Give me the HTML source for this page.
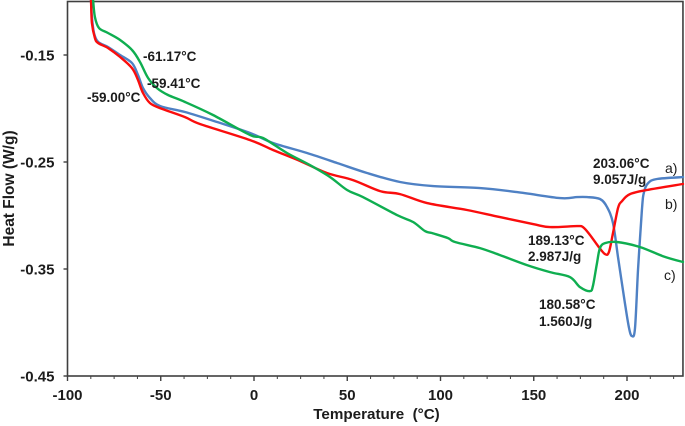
<!DOCTYPE html>
<html>
<head>
<meta charset="utf-8">
<style>
html,body{margin:0;padding:0;background:#fff;}
svg{display:block;}
text{font-family:"Liberation Sans",sans-serif;font-weight:bold;fill:#1c1c1c;}
.a{font-size:13.5px;}
</style>
</head>
<body>
<svg id="chart" width="685" height="426" viewBox="0 0 685 426" xmlns="http://www.w3.org/2000/svg">
  <g id="axes"></g>
  <g id="series"></g>
  <text x="376.5" y="419" text-anchor="middle" font-size="15.2" xml:space="preserve">Temperature  (°C)</text>
  <text transform="translate(14,188.5) rotate(-90)" text-anchor="middle" font-size="15.5">Heat Flow (W/g)</text>
  <text class="a" x="143" y="61">-61.17°C</text>
  <text class="a" x="147" y="88">-59.41°C</text>
  <text class="a" x="87" y="102">-59.00°C</text>
  <text class="a" x="593" y="168">203.06°C</text>
  <text class="a" x="593" y="184">9.057J/g</text>
  <text class="a" x="528" y="245">189.13°C</text>
  <text class="a" x="528" y="261">2.987J/g</text>
  <text class="a" x="539" y="309">180.58°C</text>
  <text class="a" x="539" y="326">1.560J/g</text>
  <text x="665" y="173" font-size="14" style="font-weight:normal">a)</text>
  <text x="665" y="209" font-size="14" style="font-weight:normal">b)</text>
  <text x="664" y="280" font-size="14" style="font-weight:normal">c)</text>
</svg>
<script>
var xTickLabels = [-100, -50, 0, 50, 100, 150, 200];
var yTickLabels = [-0.15, -0.25, -0.35, -0.45];

var blueTemp = [-87.4,-86.9,-85.8,-83.6,-78.3,-71.8,-65.4,-62.2,-59.5,-55.8,-50.4,-37,-19.8,-2.1,10.2,28.4,44.5,60.6,78.3,96,121.2,141,164.1,173.2,178.6,185.5,189.3,192.5,195.2,198.9,201.1,202.7,204.3,205.9,208,209.1,211.3,216.1,230];
var blueFlow = [-0.0986,-0.1145,-0.1294,-0.1378,-0.1425,-0.15,-0.1575,-0.1687,-0.1809,-0.1902,-0.1977,-0.2033,-0.2126,-0.2229,-0.2322,-0.2416,-0.2509,-0.2603,-0.2687,-0.2725,-0.2744,-0.2781,-0.2837,-0.2828,-0.2828,-0.2846,-0.2921,-0.3071,-0.3389,-0.3819,-0.4053,-0.4127,-0.4053,-0.351,-0.2949,-0.2781,-0.2697,-0.2659,-0.2641];

var redTemp = [-87.4,-86.9,-85.3,-83.6,-78.3,-71.8,-65.4,-62.2,-59.5,-55.8,-50.4,-37,-29,-2.1,10.2,24.7,39.1,53.1,67.6,78.3,92.8,114.2,131.9,149.6,158.7,173.2,176.4,180.2,184.5,188.2,190.3,192.5,195.2,197.3,201.6,210.7,230];
var redFlow = [-0.0986,-0.1201,-0.1341,-0.1388,-0.1435,-0.1519,-0.1622,-0.1734,-0.1855,-0.1949,-0.1996,-0.208,-0.2145,-0.2295,-0.2388,-0.2491,-0.2603,-0.2669,-0.2772,-0.28,-0.2884,-0.2949,-0.3015,-0.308,-0.3108,-0.3099,-0.3108,-0.3183,-0.3286,-0.3361,-0.3342,-0.3164,-0.2931,-0.2865,-0.28,-0.2762,-0.2706];

var greenTemp = [-86.3,-85.3,-83.1,-78.3,-71.8,-65.4,-61.1,-56.8,-52,-46.1,-37,-22,-2.1,4.8,17.7,30,40.8,49.9,58.4,76.7,85.3,91.7,95.4,104,107.8,121.2,131.9,146.4,158.7,169.4,174.8,180.2,181.8,183.9,185.5,188.2,194.6,207,219.3,230];
var greenFlow = [-0.0986,-0.1145,-0.1248,-0.1294,-0.136,-0.1453,-0.1565,-0.1715,-0.1809,-0.1874,-0.1939,-0.2061,-0.2248,-0.2276,-0.2416,-0.2529,-0.2641,-0.2762,-0.2828,-0.2996,-0.3061,-0.3146,-0.3164,-0.3211,-0.3248,-0.3305,-0.337,-0.3464,-0.3529,-0.3576,-0.3669,-0.3707,-0.3651,-0.3445,-0.3305,-0.3258,-0.3248,-0.3295,-0.338,-0.3435];

var NS = 'http://www.w3.org/2000/svg';
function xScale(t){ return 254 + t * 1.865; }
function yScale(h){ return 55 + (-0.15 - h) * 1070; }

var axes = document.getElementById('axes');
var seriesGroup = document.getElementById('series');
var xMin = -100, xMax = 230, yMax = -0.10, yMin = -0.45, axisColor = '#3f3f3f';

function line(x1, y1, x2, y2, w){
  var l = document.createElementNS(NS, 'line');
  l.setAttribute('x1', x1);
  l.setAttribute('y1', y1);
  l.setAttribute('x2', x2);
  l.setAttribute('y2', y2);
  l.setAttribute('stroke', axisColor);
  l.setAttribute('stroke-width', w);
  axes.appendChild(l);
  return l;
}

var frame = document.createElementNS(NS, 'rect');


frame.setAttribute('x', xScale(xMin));
frame.setAttribute('y', yScale(yMax));
frame.setAttribute('width', xScale(xMax) - xScale(xMin));
frame.setAttribute('height', yScale(yMin) - yScale(yMax));
frame.setAttribute('fill', 'none');
frame.setAttribute('stroke', axisColor);
frame.setAttribute('stroke-width', '1.6');
axes.appendChild(frame);

for (var m = xMin; m <= xMax; m += 12.5) {
  var isMajor = (m % 50 === 0);
  var xt = line(xScale(m), yScale(yMin), xScale(m), yScale(yMin) + (isMajor ? 5 : 3), isMajor ? 1.4 : 1);
  
  
}

xTickLabels.forEach(function (v) {
  var t = document.createElementNS(NS, 'text');
  
  
  t.setAttribute('x', xScale(v));
  t.setAttribute('y', 400);
  t.setAttribute('text-anchor', 'middle');
  t.setAttribute('font-size', '15');
  t.textContent = String(v);
  axes.appendChild(t);
});

yTickLabels.forEach(function (v) {
  var yt = line(xScale(xMin) - 4, yScale(v), xScale(xMin), yScale(v), 1.4);
  
  
  var t = document.createElementNS(NS, 'text');
  
  
  t.setAttribute('x', 54.5);
  t.setAttribute('y', yScale(v) + 5.5);
  t.setAttribute('text-anchor', 'end');
  t.setAttribute('font-size', '15');
  t.textContent = v.toFixed(2);
  axes.appendChild(t);
});

function smoothPath(temps, flows) {
  var pts = temps.map(function (t, i) { return [xScale(t), yScale(flows[i])]; });
  var d = 'M' + pts[0][0].toFixed(1) + ' ' + pts[0][1].toFixed(1);
  for (var i = 0; i < pts.length - 1; i++) {
    var p0 = pts[Math.max(i - 1, 0)], p1 = pts[i], p2 = pts[i + 1], p3 = pts[Math.min(i + 2, pts.length - 1)];
    var c1x = p1[0] + (p2[0] - p0[0]) / 6, c1y = p1[1] + (p2[1] - p0[1]) / 6;
    var c2x = p2[0] - (p3[0] - p1[0]) / 6, c2y = p2[1] - (p3[1] - p1[1]) / 6;
    d += ' C' + c1x.toFixed(1) + ' ' + c1y.toFixed(1) + ' ' + c2x.toFixed(1) + ' ' + c2y.toFixed(1) + ' ' + p2[0].toFixed(1) + ' ' + p2[1].toFixed(1);
  }
  return d;
}

function drawSeries(temps, flows, color, name) {
  var p = document.createElementNS(NS, 'path');
  
  
  p.setAttribute('d', smoothPath(temps, flows));
  p.setAttribute('fill', 'none');
  p.setAttribute('stroke', color);
  p.setAttribute('stroke-width', '2.4');
  p.setAttribute('stroke-linejoin', 'round');
  p.setAttribute('stroke-linecap', 'round');
  seriesGroup.appendChild(p);
}

drawSeries(blueTemp, blueFlow, '#4f81c4', 'series-a-blue');
drawSeries(redTemp, redFlow, '#fa0d0d', 'series-b-red');
drawSeries(greenTemp, greenFlow, '#0fae50', 'series-c-green');
</script>
</body>
</html>
